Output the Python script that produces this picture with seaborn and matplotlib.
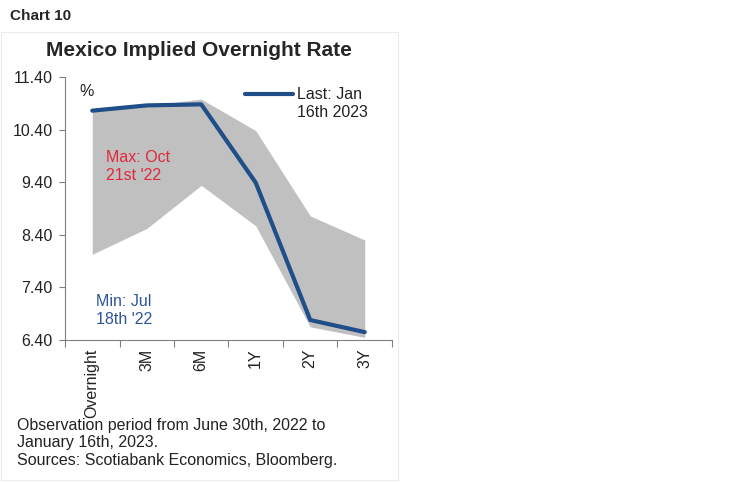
import matplotlib
matplotlib.use('Agg')
import matplotlib.pyplot as plt
import pandas as pd
import seaborn as sns
from matplotlib.patches import Rectangle
from matplotlib.ticker import FixedLocator, FormatStrFormatter

TENORS = ['Overnight', '3M', '6M', '1Y', '2Y', '3Y']
LAST = [10.76, 10.86, 10.88, 9.39, 6.78, 6.55]
MAX_RATE = [10.76, 10.85, 10.98, 10.38, 8.76, 8.30]
MIN_RATE = [8.03, 8.52, 9.34, 8.57, 6.65, 6.45]
Y_TICKS = [6.40, 7.40, 8.40, 9.40, 10.40, 11.40]

LINE_COLOR = '#1f4e89'
BAND_COLOR = '#c0c0c0'
FS = 11.5


def main():
    sns.set_style('white')
    plt.rcParams['font.family'] = ['Liberation Sans', 'DejaVu Sans']

    df = pd.DataFrame({'Tenor': TENORS, 'pos': range(len(TENORS)),
                       'Last': LAST, 'Max': MAX_RATE, 'Min': MIN_RATE})

    fig = plt.figure(figsize=(7.5, 4.82), dpi=100)
    ax = fig.add_axes([65 / 750, 1 - 340 / 482, 327 / 750, 263 / 482])

    # faint frame round the chart block
    fig.patches.append(Rectangle((1 / 750, 2 / 482), 397 / 750, 448 / 482,
                                 transform=fig.transFigure, fill=False,
                                 edgecolor='#ececec', linewidth=0.8))

    ax.fill_between(df['pos'], df['Min'], df['Max'], color=BAND_COLOR,
                    linewidth=0, zorder=1)
    sns.lineplot(data=df, x='pos', y='Last', ax=ax, color=LINE_COLOR,
                 linewidth=3, label='Last: Jan\n16th 2023', zorder=3)

    ax.set_xlim(-0.5, len(TENORS) - 0.5)
    ax.set_ylim(Y_TICKS[0], Y_TICKS[-1])
    ax.set_xlabel('')
    ax.set_ylabel('')

    ax.set_yticks(Y_TICKS)
    ax.yaxis.set_major_formatter(FormatStrFormatter('%.2f'))
    ax.tick_params(axis='y', left=True, length=4, width=0.8, color='#808080',
                   labelsize=FS, pad=5, labelcolor='#222222')

    ax.set_xticks(range(len(TENORS)))
    ax.set_xticklabels(TENORS, rotation=90, fontsize=FS, color='#222222')
    ax.tick_params(axis='x', which='major', length=0, pad=6)
    ax.xaxis.set_minor_locator(FixedLocator([i - 0.5 for i in range(len(TENORS) + 1)]))
    ax.tick_params(axis='x', which='minor', bottom=True, length=5, width=0.8,
                   color='#808080')

    sns.despine(ax=ax, top=True, right=True)
    for side in ['left', 'bottom']:
        ax.spines[side].set_color('#808080')
        ax.spines[side].set_linewidth(0.8)

    leg = ax.legend(loc='upper left', bbox_to_anchor=(0.52, 1.0), frameon=False,
                    fontsize=FS, handlelength=3.0, handletextpad=0.2,
                    borderaxespad=0.25)
    for t in leg.get_texts():
        t.set_color('#222222')
        t.set_linespacing(1.2)
    # key sits beside the first line of the label, as in the original
    key = leg.get_lines()[0]
    key.set_ydata([v + 7 for v in key.get_ydata()])

    ax.text(0.045, 0.975, '%', transform=ax.transAxes, fontsize=FS,
            va='top', ha='left', color='#222222')
    ax.text(0.125, 0.723, "Max: Oct\n21st '22", transform=ax.transAxes,
            fontsize=FS, va='top', ha='left', color='#e0283c', linespacing=1.25)
    ax.text(0.095, 0.176, "Min: Jul\n18th '22", transform=ax.transAxes,
            fontsize=FS, va='top', ha='left', color='#2f5597', linespacing=1.25)

    fig.text(10 / 750, 1 - 16 / 482, 'Chart 10', fontsize=11, fontweight='bold',
             va='center', ha='left')
    fig.text(199 / 750, 1 - 51 / 482, 'Mexico Implied Overnight Rate',
             fontsize=15, fontweight='bold', va='center', ha='center')
    fig.text(17 / 750, 1 - 418 / 482,
             'Observation period from June 30th, 2022 to\nJanuary 16th, 2023.\n'
             'Sources: Scotiabank Economics, Bloomberg.',
             fontsize=FS, va='top', ha='left', color='#222222', linespacing=1.2)

    fig.savefig('out.png', dpi=100)
    plt.close(fig)


if __name__ == '__main__':
    main()
